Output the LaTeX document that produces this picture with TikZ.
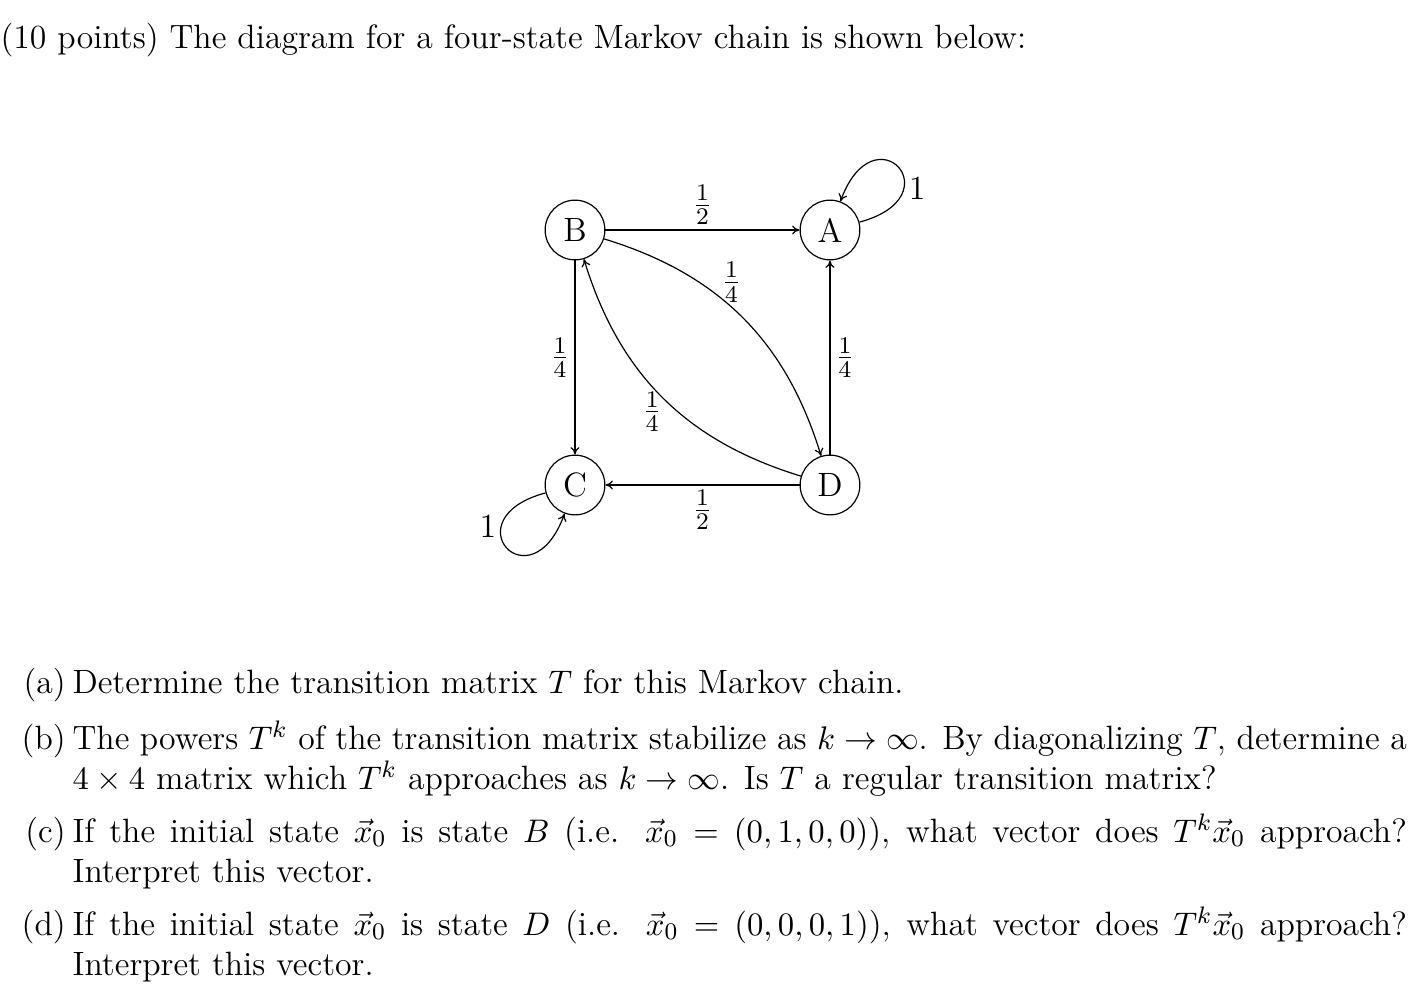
\documentclass[tikz,border=0pt]{standalone}
\usetikzlibrary{arrows.meta}
\newcommand{\mytxt}{\fontsize{11.3}{13.6}\selectfont}
\newcommand{\itm}[1]{\llap{#1\hspace{2.3pt}}}
\begin{document}
\begin{tikzpicture}[x=0.335pt,y=-0.335pt,
  st/.style={draw,circle,minimum size=20pt,inner sep=0pt,font=\mytxt},
  ed/.style={-{To[length=2.5pt,width=3pt]},thin},
  lb/.style={inner sep=1.5pt,font=\mytxt},
  txt/.style={anchor=north west,inner sep=0pt,text width=447pt,align=justify,font=\mytxt}]
\useasboundingbox (0,0) rectangle (1411,998);
\node[anchor=west,inner sep=0pt,font=\mytxt] (title) at (0,40) {(10 points) The diagram for a four-state Markov chain is shown below:};
\node[st] (B) at (575,230) {B};
\node[st] (A) at (830,230) {A};
\node[st] (C) at (575,485) {C};
\node[st] (D) at (830,485) {D};
\draw[ed] (B) -- node[lb,above]{$\frac12$} (A);
\draw[ed] (B) -- node[lb,left]{$\frac14$} (C);
\draw[ed] (D) -- node[lb,below]{$\frac12$} (C);
\draw[ed] (D) -- node[lb,right]{$\frac14$} (A);
\draw[ed] (B) to[bend left=28] node[lb,above,pos=0.45]{$\frac14$} (D);
\draw[ed] (D) to[bend left=28] node[lb,below,pos=0.55]{$\frac14$} (B);
\draw[ed] (A) to[out=15,in=70,looseness=9] node[lb,pos=0.3,right]{1} (A);
\draw[ed] (C) to[out=195,in=250,looseness=9] node[lb,pos=0.3,left]{1} (C);
\node[txt] (ta) at (72,668) {\itm{(a)}Determine the transition matrix $T$ for this Markov chain.};
\node[txt] (tb) at (72,720) {\hyphenpenalty=10000\itm{(b)}The powers $T^k$ of the transition matrix stabilize as $k\to\infty$. By diagonalizing $T$, determine a $4\times4$ matrix which $T^k$ approaches as $k\to\infty$. Is $T$ a regular transition matrix?};
\node[txt] (tc) at (72,813) {\itm{(c)}If the initial state $\vec x_0$ is state $B$ (i.e. $\vec x_0=(0,1,0,0)$), what vector does $T^k\vec x_0$ approach? Interpret this vector.};
\node[txt] (td) at (72,906) {\itm{(d)}If the initial state $\vec x_0$ is state $D$ (i.e. $\vec x_0=(0,0,0,1)$), what vector does $T^k\vec x_0$ approach? Interpret this vector.};
\end{tikzpicture}
\end{document}
